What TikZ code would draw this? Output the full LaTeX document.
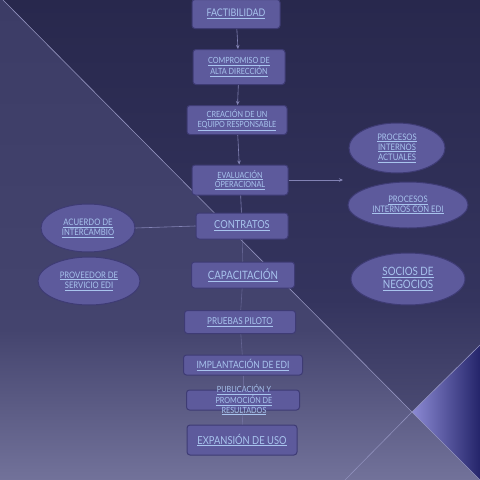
\documentclass[tikz,border=0pt]{standalone}
\usepackage{fontspec}
\setmainfont[FakeStretch=0.85]{Lato}
\usetikzlibrary{shapes.geometric,arrows.meta}
\definecolor{darkA}{HTML}{28284D}
\definecolor{darkB}{HTML}{34345E}
\definecolor{darkC}{HTML}{4A4A72}
\definecolor{lightA}{HTML}{3C3C66}
\definecolor{lightB}{HTML}{44446E}
\definecolor{lightC}{HTML}{72729A}
\definecolor{boxfill}{HTML}{5D5A9C}
\definecolor{boxborder}{HTML}{3E3B74}
\definecolor{linktext}{HTML}{A8C4EE}
\definecolor{connline}{HTML}{8282B4}
\definecolor{seamline}{HTML}{9090BC}
\definecolor{triL}{HTML}{8C8AD4}
\definecolor{triR}{HTML}{24246A}
\newcommand\lnk[1]{\underline{#1}}
\tikzset{
  stepbox/.style={rectangle, rounded corners=3pt, fill=boxfill, draw=boxborder, line width=1pt,
    text=linktext, align=center, inner sep=1pt, font=\fontsize{8.5}{9.5}\selectfont},
  oval/.style={ellipse, fill=boxfill, draw=boxborder, line width=1pt, text=linktext,
    align=center, inner sep=0pt, font=\fontsize{9}{10}\selectfont},
  conn/.style={draw=connline, line width=0.6pt},
  connarrow/.style={conn, -{Stealth[length=4pt,width=3.5pt]}},
}
\begin{document}
\begin{tikzpicture}[x=1pt,y=-1pt]
\useasboundingbox (0,0) rectangle (480,480);
% background: light lower-left region
\begin{scope}
\clip (0,0) -- (3,0) -- (412,412) -- (480,480) -- (0,480) -- cycle;
\shade[top color=lightA, bottom color=lightB] (0,0) rectangle (480,330.5);
\shade[top color=lightB, bottom color=lightC] (0,330) rectangle (480,480);
\end{scope}
% dark upper-right region
\begin{scope}
\clip (3,0) -- (480,0) -- (480,345) -- (412,412) -- cycle;
\shade[top color=darkA, bottom color=darkB] (0,0) rectangle (480,300.5);
\shade[top color=darkB, bottom color=darkC] (0,300) rectangle (480,412);
\end{scope}
\shade[left color=triL, right color=triR] (412,412) -- (480,345) -- (480,480) -- cycle;
\draw[seamline, line width=0.6pt] (3,0) -- (412,412) -- (480,345);
\draw[seamline, line width=0.6pt] (412,412) -- (345,480);
\draw[seamline, line width=0.4pt] (412,412) -- (480,480);

% boxes
\node[stepbox, minimum width=88, minimum height=29, font=\fontsize{10.5}{11}\selectfont] (fact) at (236,14) {\lnk{FACTIBILIDAD}};
\node[stepbox, minimum width=92, minimum height=35] (comp) at (239,67) {\lnk{COMPROMISO DE}\\\lnk{ALTA DIRECCIÓN}};
\node[stepbox, minimum width=100, minimum height=29] (crea) at (237,120) {\lnk{CREACIÓN DE UN}\\\lnk{EQUIPO RESPONSABLE}};
\node[stepbox, minimum width=96, minimum height=30] (eval) at (240,180) {\lnk{EVALUACIÓN}\\\lnk{OPERACIONAL}};
\node[stepbox, minimum width=92, minimum height=26, font=\fontsize{11}{12}\selectfont] (cont) at (242,226) {\lnk{CONTRATOS}};
\node[stepbox, minimum width=103, minimum height=26, font=\fontsize{11.5}{12}\selectfont] (capa) at (243,275) {\lnk{CAPACITACIÓN}};
\node[stepbox, minimum width=111, minimum height=23, font=\fontsize{9.5}{10}\selectfont] (prue) at (240,322) {\lnk{PRUEBAS PILOTO}};
\node[stepbox, minimum width=119, minimum height=20, font=\fontsize{10}{11}\selectfont] (impl) at (243,365) {\lnk{IMPLANTACIÓN DE EDI}};
\node[stepbox, minimum width=113, minimum height=20] (pubb) at (243,400) {};
\node[text=linktext, align=center, inner sep=0pt, font=\fontsize{8.5}{9.5}\selectfont] (pubt) at (244,400) {\lnk{PUBLICACIÓN Y}\\\lnk{PROMOCIÓN DE}\\\lnk{RESULTADOS}};
\node[stepbox, minimum width=110, minimum height=30, font=\fontsize{11}{12}\selectfont] (expa) at (242,440) {\lnk{EXPANSIÓN DE USO}};

% ellipses
\node[oval, minimum width=94, minimum height=48] (acue) at (88,228) {\lnk{ACUERDO DE}\\\lnk{INTERCAMBIO}};
\node[oval, minimum width=102, minimum height=48] (prov) at (89,281) {\lnk{PROVEEDOR DE}\\\lnk{SERVICIO EDI}};
\node[oval, minimum width=96, minimum height=50] (pact) at (397,148) {\lnk{PROCESOS}\\\lnk{INTERNOS}\\\lnk{ACTUALES}};
\node[oval, minimum width=120, minimum height=46] (pedi) at (408,205) {\lnk{PROCESOS}\\\lnk{INTERNOS CON EDI}};
\node[oval, minimum width=114, minimum height=52, font=\fontsize{11.5}{13}\selectfont] (soci) at (408,279) {\lnk{SOCIOS DE}\\\lnk{NEGOCIOS}};

% connectors
\coordinate (evend) at (343,180);
\draw[connarrow] (fact) -- (comp);
\draw[connarrow] (comp) -- (crea);
\draw[connarrow] (crea) -- (eval);
\draw[conn] (eval) -- (cont);
\draw[conn, opacity=0.5] (cont) -- (capa);
\draw[conn, opacity=0.5] (capa) -- (prue);
\draw[conn, opacity=0.5] (prue) -- (impl);
\draw[conn, opacity=0.5] (impl) -- (pubb);
\draw[conn, opacity=0.5] (pubb) -- (expa);
\draw[connarrow] (eval) -- (evend);
\draw[conn] (cont.west) -- (acue.east);
\end{tikzpicture}
\end{document}
